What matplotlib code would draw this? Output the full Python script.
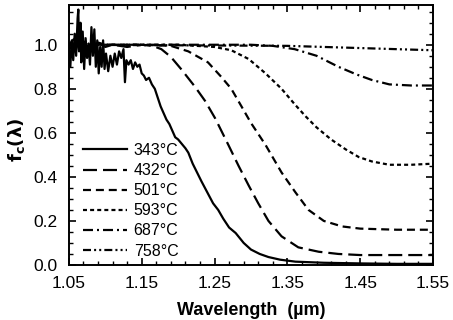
import matplotlib
matplotlib.use('Agg')
import matplotlib.pyplot as plt
from matplotlib.ticker import AutoMinorLocator

plt.rcParams['font.family'] = ['Liberation Sans', 'DejaVu Sans']

# 343 C (solid, noisy at short wavelength)
wl_343 = [1.050, 1.052, 1.054, 1.056, 1.058, 1.060, 1.062, 1.063, 1.064, 1.066,
          1.067, 1.069, 1.071, 1.073, 1.075, 1.077, 1.079, 1.081, 1.083, 1.085,
          1.087, 1.089, 1.091, 1.093, 1.095, 1.097, 1.099, 1.101, 1.104, 1.107,
          1.110, 1.113, 1.116, 1.119, 1.122, 1.125, 1.127, 1.129, 1.132, 1.135,
          1.138, 1.141, 1.144, 1.147, 1.150, 1.153, 1.156, 1.160, 1.164, 1.168,
          1.172, 1.176, 1.180, 1.184, 1.188, 1.192, 1.196, 1.200, 1.205, 1.210,
          1.214, 1.220, 1.226, 1.232, 1.240, 1.248, 1.255, 1.262, 1.270, 1.279,
          1.290, 1.300, 1.312, 1.324, 1.340, 1.361, 1.400, 1.450, 1.500, 1.550]
fc_343 = [0.98, 0.90, 1.02, 0.93, 1.05, 0.95, 1.12, 1.16, 0.97, 1.10,
          0.92, 1.06, 0.89, 1.03, 0.94, 1.00, 0.91, 1.08, 0.95, 1.07,
          0.90, 1.02, 0.87, 0.99, 0.90, 1.02, 0.89, 0.96, 0.88, 0.95,
          0.90, 0.96, 0.91, 0.97, 0.94, 0.98, 0.83, 0.93, 0.91, 0.93,
          0.89, 0.92, 0.90, 0.91, 0.87, 0.86, 0.84, 0.85, 0.82, 0.80,
          0.76, 0.72, 0.69, 0.66, 0.64, 0.61, 0.58, 0.57, 0.55, 0.53,
          0.51, 0.46, 0.42, 0.38, 0.33, 0.28, 0.25, 0.21, 0.17, 0.145,
          0.10, 0.07, 0.05, 0.036, 0.024, 0.015, 0.010, 0.007, 0.005, 0.005]

wl_432 = [1.050, 1.055, 1.060, 1.065, 1.070, 1.075, 1.080, 1.085, 1.090, 1.100,
          1.110, 1.130, 1.150, 1.165, 1.177, 1.190, 1.204, 1.223, 1.237, 1.251,
          1.269, 1.283, 1.297, 1.310, 1.324, 1.342, 1.365, 1.393, 1.420, 1.450,
          1.500, 1.550]
fc_432 = [1.00, 0.97, 1.03, 0.96, 1.04, 0.98, 1.02, 0.97, 1.01, 0.99,
          1.00, 0.99, 1.00, 0.995, 0.98, 0.945, 0.89, 0.81, 0.745, 0.665,
          0.545, 0.45, 0.36, 0.28, 0.20, 0.13, 0.08, 0.06, 0.05, 0.045,
          0.045, 0.045]

wl_501 = [1.050, 1.058, 1.066, 1.074, 1.082, 1.090, 1.100, 1.150, 1.190, 1.214,
          1.241, 1.259, 1.273, 1.287, 1.300, 1.320, 1.342, 1.361, 1.379, 1.400,
          1.425, 1.450, 1.500, 1.550]
fc_501 = [1.00, 1.03, 0.97, 1.02, 0.98, 1.01, 1.00, 1.00, 0.995, 0.97,
          0.92, 0.855, 0.80, 0.72, 0.645, 0.545, 0.42, 0.33, 0.25, 0.20,
          0.175, 0.165, 0.16, 0.16]

wl_593 = [1.050, 1.200, 1.250, 1.273, 1.297, 1.320, 1.342, 1.360, 1.375, 1.390,
          1.410, 1.430, 1.448, 1.466, 1.490, 1.520, 1.550]
fc_593 = [1.00, 1.00, 0.99, 0.975, 0.935, 0.87, 0.80, 0.73, 0.675, 0.625,
          0.57, 0.525, 0.49, 0.47, 0.455, 0.455, 0.46]

wl_687 = [1.050, 1.300, 1.330, 1.360, 1.390, 1.420, 1.445, 1.466, 1.490, 1.520, 1.550]
fc_687 = [1.00, 1.00, 0.995, 0.98, 0.95, 0.90, 0.865, 0.84, 0.82, 0.815, 0.815]

wl_758 = [1.050, 1.350, 1.450, 1.500, 1.550]
fc_758 = [1.00, 0.995, 0.985, 0.98, 0.975]

labels = ['343°C', '432°C', '501°C', '593°C', '687°C', '758°C']
dash_styles = [None,
               (6.3, 2.7),
               (3.6, 2.2),
               (1.8, 1.4),
               (4.5, 1.8, 0.9, 1.8),
               (3.6, 1.4, 0.9, 1.4, 0.9, 1.4)]

fig = plt.figure(figsize=(4.53, 3.2), dpi=100)
ax = fig.add_axes([0.152, 0.172, 0.804, 0.812])

series = [(wl_343, fc_343), (wl_432, fc_432), (wl_501, fc_501),
          (wl_593, fc_593), (wl_687, fc_687), (wl_758, fc_758)]
for (wl, fc), lab, ds in zip(series, labels, dash_styles):
    if ds is None:
        ax.plot(wl, fc, color='black', lw=1.6, label=lab)
    else:
        ax.plot(wl, fc, color='black', lw=1.6, dashes=ds, label=lab)

ax.set_xlim(1.05, 1.55)
ax.set_ylim(0, 1.18)
ax.set_xticks([1.05, 1.15, 1.25, 1.35, 1.45, 1.55])
ax.set_xticklabels(['1.05', '1.15', '1.25', '1.35', '1.45', '1.55'])
ax.set_yticks([0.0, 0.2, 0.4, 0.6, 0.8, 1.0])
ax.set_yticklabels(['0.0', '0.2', '0.4', '0.6', '0.8', '1.0'])
ax.xaxis.set_minor_locator(AutoMinorLocator(5))
ax.yaxis.set_minor_locator(AutoMinorLocator(4))
ax.tick_params(which='both', direction='in', top=True, right=True, labelsize=12.5)
ax.tick_params(axis='x', which='major', pad=8)
ax.tick_params(axis='y', which='major', pad=8)
ax.tick_params(which='major', length=5, width=1.2)
ax.tick_params(which='minor', length=3, width=1)
for s in ax.spines.values():
    s.set_linewidth(1.4)

ax.set_xlabel('Wavelength  (µm)', fontsize=13, fontweight='bold', labelpad=8)
ax.set_ylabel(r'$\mathbf{f_c(\lambda)}$', fontsize=13)
ax.yaxis.set_label_coords(-0.115, 0.48)

ax.legend(loc='lower left', frameon=False, fontsize=11.5, handlelength=2.8,
          handletextpad=0.4, labelspacing=0.32, borderaxespad=0.0,
          bbox_to_anchor=(0.02, 0.0))

fig.savefig('out.png', dpi=100)
